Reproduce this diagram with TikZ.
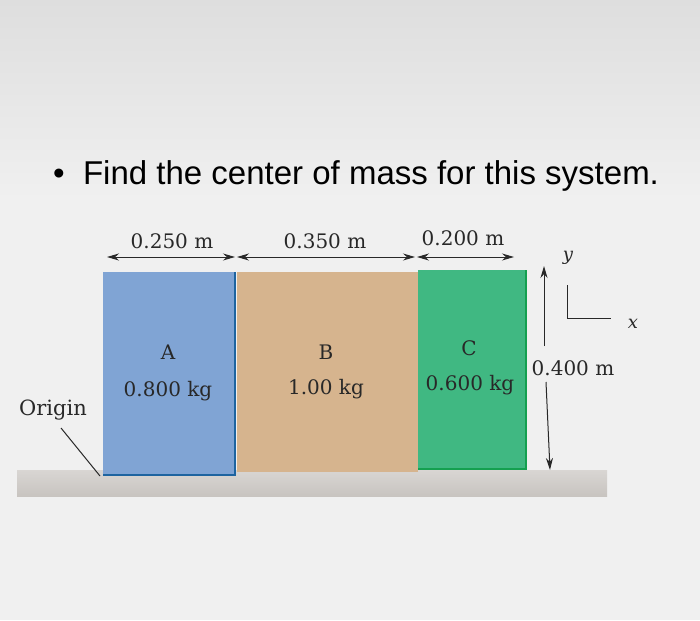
\documentclass[tikz,border=0pt]{standalone}
\usepackage{fontspec}
\setmainfont{DejaVu Serif}
\newfontfamily\headfont{Liberation Sans}
\usetikzlibrary{arrows.meta}
\definecolor{bgtop}{RGB}{222,222,222}
\definecolor{bgmid}{RGB}{240,240,240}
\definecolor{blkA}{RGB}{128,164,212}
\definecolor{edgeA}{RGB}{30,100,160}
\definecolor{blkB}{RGB}{214,180,142}
\definecolor{blkC}{RGB}{64,184,130}
\definecolor{edgeC}{RGB}{20,160,80}
\definecolor{ground}{RGB}{200,196,192}
\definecolor{ink}{RGB}{40,40,40}
\tikzset{
  lbl/.style={text=ink, font=\fontsize{20}{24}\selectfont, inner sep=0pt},
  dim/.style={draw=ink, line width=1pt, {Stealth[length=12pt,width=7pt]}-{Stealth[length=12pt,width=7pt]}},
  thin/.style={draw=ink, line width=1pt},
}
\begin{document}
\begin{tikzpicture}[x=1pt,y=-1pt]
\useasboundingbox (0,0) rectangle (700,620);
\shade[top color=bgtop, bottom color=bgmid] (0,0) rectangle (700,200);
\fill[bgmid] (0,200) rectangle (700,620);
% title
\node[anchor=west, text=black, font=\headfont\fontsize{33}{38}\selectfont, inner sep=0pt] (title) at (53,176) {\textbullet\ \ Find the center of mass for this system.};
% ground
\shade[top color=ground!70!white, bottom color=ground] (17,470) rectangle (607,496);
% blocks
\node[fill=blkA, minimum width=132pt, minimum height=204pt, inner sep=0pt, anchor=north west] (A) at (103,272) {};
\draw[edgeA, line width=2.5pt] (235,272) -- (235,475) -- (103,475);
\node[fill=blkB, minimum width=181pt, minimum height=200pt, inner sep=0pt, anchor=north west] (B) at (237,272) {};
\node[fill=blkC, minimum width=109pt, minimum height=200pt, inner sep=0pt, anchor=north west] (C) at (418,270) {};
\draw[edgeC, line width=2.5pt] (526,270) -- (526,469) -- (418,469);
% block labels
\node[lbl] (Aname) at (168,352) {A};
\node[lbl] (Amass) at (168,391) {0.800 kg};
\node[lbl] (Bname) at (326,352) {B};
\node[lbl] (Bmass) at (326,389) {1.00 kg};
\node[lbl] (Cname) at (469,348) {C};
\node[lbl] (Cmass) at (470,385) {0.600 kg};
% dimension lines
\coordinate (d0) at (107,257);
\coordinate (d1a) at (235,257);
\coordinate (d1b) at (237,257);
\coordinate (d2a) at (415,257);
\coordinate (d2b) at (417,257);
\coordinate (d3) at (514,257);
\draw[dim] (d0) -- (d1a);
\draw[dim] (d1b) -- (d2a);
\draw[dim] (d2b) -- (d3);
\node[lbl] (w1) at (172,241) {0.250 m};
\node[lbl] (w2) at (325,241) {0.350 m};
\node[lbl] (w3) at (463,238) {0.200 m};
% height
\node[lbl] (h) at (573,368) {0.400 m};
\coordinate (htop) at (544,266);
\coordinate (hbot) at (550,470);
\draw[thin, -{Stealth[length=12pt,width=7pt]}] (544,346) -- (htop);
\draw[thin, -{Stealth[length=12pt,width=7pt]}] (546,382) -- (hbot);
% axes
\node[lbl, font=\itshape\fontsize{18}{20}\selectfont] (ylab) at (568,258) {y};
\node[lbl, font=\itshape\fontsize{18}{20}\selectfont] (xlab) at (633,324) {x};
\coordinate (ax0) at (567,318);
\draw[thin] (567,285) -- (ax0) -- (611,318);
% origin
\node[lbl, font=\fontsize{21}{24}\selectfont] (orig) at (53,410) {Origin};
\coordinate (o) at (100,476);
\draw[thin] (61,428) -- (o);
\end{tikzpicture}
\end{document}
